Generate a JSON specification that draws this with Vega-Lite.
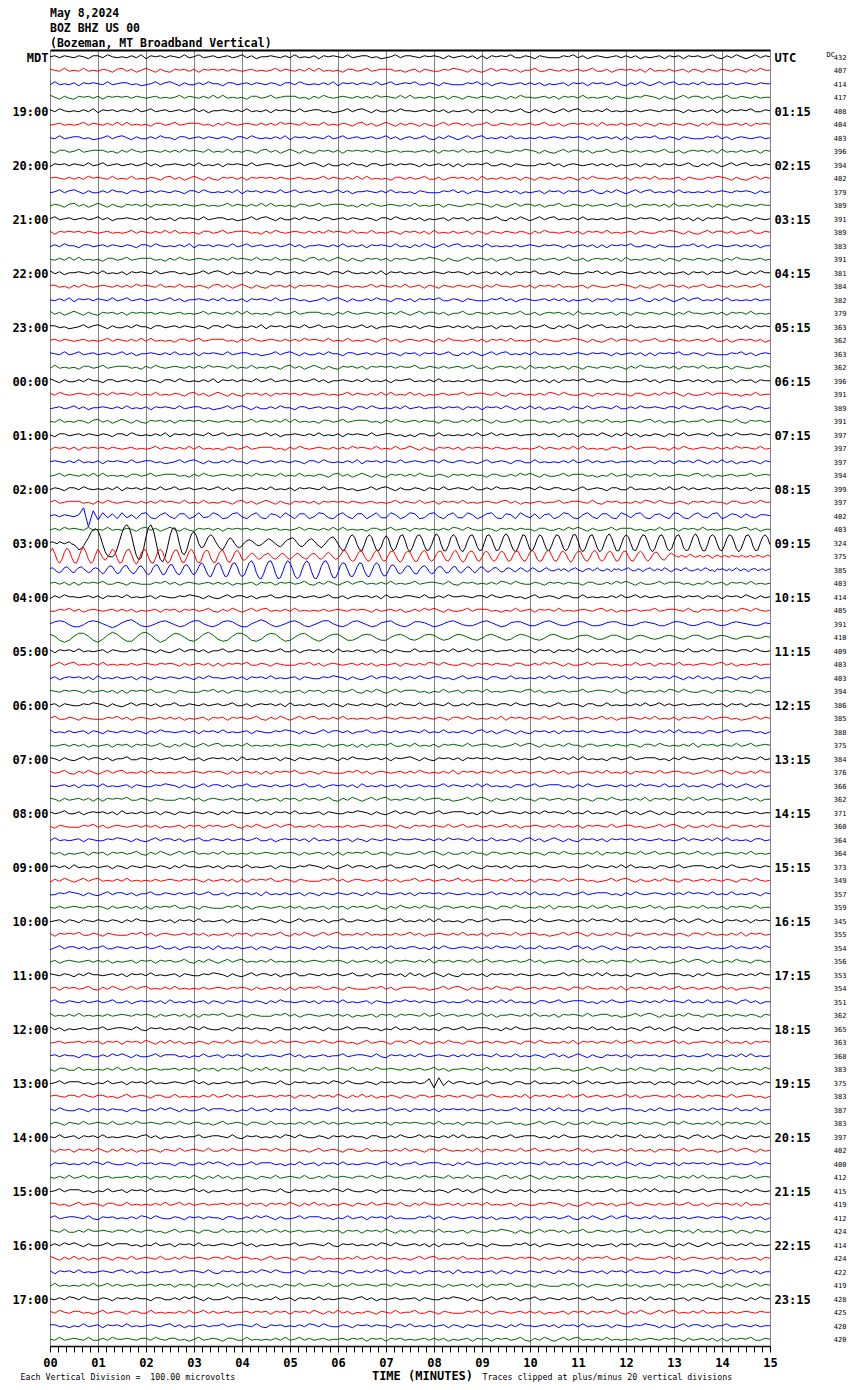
{
"$schema":"https://vega.github.io/schema/vega-lite/v6.json",
"width":720,"height":1296,
"autosize":{"type":"none"},
"padding":{"left":50,"top":50,"right":80,"bottom":44},
"background":"white",
"config":{"view":{"stroke":null}},
"title":{"text":["May 8,2024","BOZ BHZ US 00","(Bozeman, MT Broadband Vertical)"],"anchor":"start","frame":"group","font":"DejaVu Sans Mono","fontSize":11.5,"fontWeight":"bold","lineHeight":15,"offset":1,"color":"black"},
"datasets":{
"quiet":[
{"k":0,"v":[0,1,-1,1,0,-1,1,0,-2,1,1,-1,2,0,-1,0,-1,1,-1,2,-2,1,0,1,-1,1,0,-1,2,-1,0,2,-1,0,1,-1,0,1,-1,0,2,-1,1,-2,0,0,1,0,-1,1,-1,2,-1,0,-1,1,-2,1,0,1,0,-1,2,-1,0,1,1,-1,0,-2,-1,0,2,-1,1,1,0,-1,1,0,1,0,-2,1,-1,0,1,-1,1,-2,1,-2,1,0,1,0,2,-1,-1,1,0,-2,1,0,-1,-1,-1,1,0,2,-1,1,-2,0,1,0,-1,0,1,-1,1,-1,1,-2,0,-1,0,1,-2,1,0,1,-2,1,0,1,-1,0,2,-1,-2,1,-1,2,0,-2,0,2,-1,1,0]},
{"k":1,"v":[1,0,-1,2,-1,0,-1,2,-1,0,-1,1,0,-2,1,2,-1,1,-2,0,2,0,-2,1,-1,-2,1,0,1,-1,1,-2,1,0,1,0,1,-1,1,0,-1,0,1,-1,0,-1,0,2,-1,1,0,-1,1,-1,2,-1,2,-1,0,-1,0,-2,1,1,-1,0,2,-1,0,1,1,1,-1,0,-2,0,1,-2,1,0,-1,-1,1,0,2,1,0,-2,1,-1,-2,0,2,-1,1,1,-1,1,-2,0,0,2,-1,-1,1,0,-1,1,-1,0,1,-1,0,2,-1,-1,1,-2,0,1,0,1,-1,1,-2,2,-1,0,-1,1,-1,0,1,-2,1,0,-2,1,0,-1,1,0,-1,1,0,-2,1,-1,2,0,0]},
{"k":2,"v":[-1,2,-1,0,-1,1,-2,1,0,1,0,-1,2,-1,0,1,1,-1,0,-2,-1,0,2,-1,1,2,0,-2,1,-1,-1,1,-1,2,0,0,-2,1,1,-1,0,1,-1,1,0,-1,1,0,-2,1,1,-1,2,0,-1,0,-1,1,-1,2,-2,1,0,1,-1,1,0,-1,2,-1,0,2,-1,0,1,0,2,-1,-1,1,0,-2,1,0,-1,-1,-1,1,0,2,-1,1,-2,0,1,0,-1,0,1,-1,1,-1,1,-2,0,-1,0,1,-2,1,0,1,-2,1,0,1,-1,0,2,-1,-2,1,-1,2,0,-2,0,2,-1,1,2,-1,0,-1,1,-1,2,-1,0,-1,0,-1,1,-1,0,1,0,-1,1,0,0]},
{"k":3,"v":[2,0,-2,1,-1,-2,1,0,1,-1,1,-2,1,0,1,0,1,-1,1,0,-1,0,1,-1,0,-1,0,2,-1,1,0,-1,1,-1,2,-1,2,-1,0,-1,0,-2,1,1,-1,0,2,-1,0,1,1,1,-1,0,-2,1,-1,2,0,-1,0,1,0,-1,1,-1,1,-1,2,0,1,0,-1,2,-1,2,-1,0,-1,1,-1,0,1,-2,1,0,-2,1,0,-1,1,0,-1,1,0,-2,1,-1,2,0,0,-1,0,1,-1,1,-2,1,0,1,-1,2,-1,0,-1,0,1,-2,1,0,-1,-1,1,0,2,1,0,-2,1,-1,-2,0,2,-1,1,1,-1,1,-2,0,0,2,-1,-1,1,0,-1,1,-1,0,0]},
{"k":4,"v":[1,-1,2,0,-1,0,-1,1,-1,2,-2,1,0,1,-1,1,0,-1,2,-1,0,2,-1,0,1,-1,0,1,-1,0,2,-1,1,-2,0,0,1,0,-1,1,-1,2,-1,0,-1,1,-2,1,0,1,0,-1,2,-1,0,1,1,-1,0,-2,-1,0,2,-1,1,2,0,-2,1,-1,-1,1,-1,2,0,0,-1,0,1,-1,1,-1,1,-2,0,-1,0,1,-2,1,0,1,-2,1,0,1,-1,0,2,-1,-2,1,-1,2,0,-2,0,2,-1,1,2,-1,0,-1,1,-1,2,-1,0,-1,0,-1,1,-1,0,1,0,-1,1,0,1,0,-2,1,-1,0,1,-1,1,-2,1,-2,1,0,1,0,2,-1,-1,1,0]},
{"k":5,"v":[-1,0,1,-1,0,-1,0,2,-1,1,0,-1,1,-1,2,-1,2,-1,0,-1,0,-2,1,1,-1,0,2,-1,0,1,1,1,-1,0,-2,1,-1,2,0,-1,0,1,0,-1,1,-1,1,-1,2,0,1,0,-1,2,-1,0,-1,2,-1,0,-1,1,0,-2,1,2,-1,1,-2,0,2,0,-2,1,-1,1,0,-2,1,-1,-2,0,2,-1,1,1,-1,1,-2,0,0,2,-1,-1,1,0,-1,1,-1,0,1,-1,0,2,-1,-1,1,-2,0,1,0,1,-1,1,-2,2,-1,0,-1,1,-1,0,1,-2,1,0,-2,1,0,-1,1,0,-1,1,0,-2,1,-1,2,0,0,-1,0,1,-1,1,-2,1,0,1,0]},
{"k":6,"v":[0,-1,2,-1,0,1,1,-1,0,-2,-1,0,2,-1,1,2,0,-2,1,-1,-1,1,-1,2,0,0,-2,1,1,-1,0,1,-1,1,0,-1,1,0,-2,1,1,-1,2,0,-1,0,-1,1,-1,2,-2,1,0,1,-1,1,0,-1,2,-1,0,2,-1,0,1,-1,0,1,-1,0,2,-1,1,-2,0,1,-1,0,2,-1,-2,1,-1,2,0,-2,0,2,-1,1,2,-1,0,-1,1,-1,2,-1,0,-1,0,-1,1,-1,0,1,0,-1,1,0,1,0,-2,1,-1,0,1,-1,1,-2,1,-2,1,0,1,0,2,-1,-1,1,0,-2,1,0,-1,-1,-1,1,0,2,-1,1,-2,0,1,0,-1,0,1,-1,0]},
{"k":7,"v":[0,-2,1,1,-1,0,2,-1,0,1,1,1,-1,0,-2,1,-1,2,0,-1,0,1,0,-1,1,-1,1,-1,2,0,1,0,-1,2,-1,0,-1,2,-1,0,-1,1,0,-2,1,2,-1,1,-2,0,2,0,-2,1,-1,-2,1,0,1,-1,1,-2,1,0,1,0,1,-1,1,0,-1,0,1,-1,0,0,-1,0,1,-1,1,-2,1,0,1,-1,2,-1,0,-1,0,1,-2,1,0,-1,-1,1,0,2,1,0,-2,1,-1,-2,0,2,-1,1,1,-1,1,-2,0,0,2,-1,-1,1,0,-1,1,-1,0,1,-1,0,2,-1,-1,1,-2,0,1,0,1,-1,1,-2,2,-1,0,-1,1,-1,0,1,-2,1,0]},
{"k":8,"v":[-2,1,0,1,-1,1,0,-1,2,-1,0,2,-1,0,1,-1,0,1,-1,0,2,-1,1,-2,0,0,1,0,-1,1,-1,2,-1,0,-1,1,-2,1,0,1,0,-1,2,-1,0,1,1,-1,0,-2,-1,0,2,-1,1,2,0,-2,1,-1,-1,1,-1,2,0,0,-2,1,1,-1,0,1,-1,1,0,1,0,-2,1,-1,0,1,-1,1,-2,1,-2,1,0,1,0,2,-1,-1,1,0,-2,1,0,-1,-1,-1,1,0,2,-1,1,-2,0,1,0,-1,0,1,-1,1,-1,1,-2,0,-1,0,1,-2,1,0,1,-2,1,0,1,-1,0,2,-1,-2,1,-1,2,0,-2,0,2,-1,1,2,-1,0,-1,1,0]},
{"k":9,"v":[0,1,0,-1,1,-1,1,-1,2,0,1,0,-1,2,-1,0,-1,2,-1,0,-1,1,0,-2,1,2,-1,1,-2,0,2,0,-2,1,-1,-2,1,0,1,-1,1,-2,1,0,1,0,1,-1,1,0,-1,0,1,-1,0,-1,0,2,-1,1,0,-1,1,-1,2,-1,2,-1,0,-1,0,-2,1,1,-1,1,-1,0,2,-1,-1,1,-2,0,1,0,1,-1,1,-2,2,-1,0,-1,1,-1,0,1,-2,1,0,-2,1,0,-1,1,0,-1,1,0,-2,1,-1,2,0,0,-1,0,1,-1,1,-2,1,0,1,-1,2,-1,0,-1,0,1,-2,1,0,-1,-1,1,0,2,1,0,-2,1,-1,-2,0,2,-1,1,0]},
{"k":10,"v":[-1,0,2,-1,1,2,0,-2,1,-1,-1,1,-1,2,0,0,-2,1,1,-1,0,1,-1,1,0,-1,1,0,-2,1,1,-1,2,0,-1,0,-1,1,-1,2,-2,1,0,1,-1,1,0,-1,2,-1,0,2,-1,0,1,-1,0,1,-1,0,2,-1,1,-2,0,0,1,0,-1,1,-1,2,-1,0,-1,0,-2,1,0,-1,-1,-1,1,0,2,-1,1,-2,0,1,0,-1,0,1,-1,1,-1,1,-2,0,-1,0,1,-2,1,0,1,-2,1,0,1,-1,0,2,-1,-2,1,-1,2,0,-2,0,2,-1,1,2,-1,0,-1,1,-1,2,-1,0,-1,0,-1,1,-1,0,1,0,-1,1,0,1,0,-2,1,-1,0]},
{"k":11,"v":[-1,1,0,-2,1,2,-1,1,-2,0,2,0,-2,1,-1,-2,1,0,1,-1,1,-2,1,0,1,0,1,-1,1,0,-1,0,1,-1,0,-1,0,2,-1,1,0,-1,1,-1,2,-1,2,-1,0,-1,0,-2,1,1,-1,0,2,-1,0,1,1,1,-1,0,-2,1,-1,2,0,-1,0,1,0,-1,1,-1,2,-1,0,-1,0,1,-2,1,0,-1,-1,1,0,2,1,0,-2,1,-1,-2,0,2,-1,1,1,-1,1,-2,0,0,2,-1,-1,1,0,-1,1,-1,0,1,-1,0,2,-1,-1,1,-2,0,1,0,1,-1,1,-2,2,-1,0,-1,1,-1,0,1,-2,1,0,-2,1,0,-1,1,0,-1,1,0,0]},
{"k":12,"v":[0,2,-1,0,1,-1,0,1,-1,0,2,-1,1,-2,0,0,1,0,-1,1,-1,2,-1,0,-1,1,-2,1,0,1,0,-1,2,-1,0,1,1,-1,0,-2,-1,0,2,-1,1,2,0,-2,1,-1,-1,1,-1,2,0,0,-2,1,1,-1,0,1,-1,1,0,-1,1,0,-2,1,1,-1,2,0,-1,1,-1,1,-2,0,-1,0,1,-2,1,0,1,-2,1,0,1,-1,0,2,-1,-2,1,-1,2,0,-2,0,2,-1,1,2,-1,0,-1,1,-1,2,-1,0,-1,0,-1,1,-1,0,1,0,-1,1,0,1,0,-2,1,-1,0,1,-1,1,-2,1,-2,1,0,1,0,2,-1,-1,1,0,-2,1,0,-1,0]},
{"k":13,"v":[1,-2,1,0,1,0,1,-1,1,0,-1,0,1,-1,0,-1,0,2,-1,1,0,-1,1,-1,2,-1,2,-1,0,-1,0,-2,1,1,-1,0,2,-1,0,1,1,1,-1,0,-2,1,-1,2,0,-1,0,1,0,-1,1,-1,1,-1,2,0,1,0,-1,2,-1,0,-1,2,-1,0,-1,1,0,-2,1,0,1,-1,1,-2,2,-1,0,-1,1,-1,0,1,-2,1,0,-2,1,0,-1,1,0,-1,1,0,-2,1,-1,2,0,0,-1,0,1,-1,1,-2,1,0,1,-1,2,-1,0,-1,0,1,-2,1,0,-1,-1,1,0,2,1,0,-2,1,-1,-2,0,2,-1,1,1,-1,1,-2,0,0,2,-1,-1,1,0]},
{"k":14,"v":[-1,1,-1,2,0,0,-2,1,1,-1,0,1,-1,1,0,-1,1,0,-2,1,1,-1,2,0,-1,0,-1,1,-1,2,-2,1,0,1,-1,1,0,-1,2,-1,0,2,-1,0,1,-1,0,1,-1,0,2,-1,1,-2,0,0,1,0,-1,1,-1,2,-1,0,-1,1,-2,1,0,1,0,-1,2,-1,0,-2,1,-1,2,0,-2,0,2,-1,1,2,-1,0,-1,1,-1,2,-1,0,-1,0,-1,1,-1,0,1,0,-1,1,0,1,0,-2,1,-1,0,1,-1,1,-2,1,-2,1,0,1,0,2,-1,-1,1,0,-2,1,0,-1,-1,-1,1,0,2,-1,1,-2,0,1,0,-1,0,1,-1,1,-1,1,-2,0,0]},
{"k":15,"v":[0,-1,1,-1,2,-1,2,-1,0,-1,0,-2,1,1,-1,0,2,-1,0,1,1,1,-1,0,-2,1,-1,2,0,-1,0,1,0,-1,1,-1,1,-1,2,0,1,0,-1,2,-1,0,-1,2,-1,0,-1,1,0,-2,1,2,-1,1,-2,0,2,0,-2,1,-1,-2,1,0,1,-1,1,-2,1,0,1,-1,-1,1,0,2,1,0,-2,1,-1,-2,0,2,-1,1,1,-1,1,-2,0,0,2,-1,-1,1,0,-1,1,-1,0,1,-1,0,2,-1,-1,1,-2,0,1,0,1,-1,1,-2,2,-1,0,-1,1,-1,0,1,-2,1,0,-2,1,0,-1,1,0,-1,1,0,-2,1,-1,2,0,0,-1,0,1,-1,0]},
{"k":16,"v":[2,-1,1,-2,0,0,1,0,-1,1,-1,2,-1,0,-1,1,-2,1,0,1,0,-1,2,-1,0,1,1,-1,0,-2,-1,0,2,-1,1,2,0,-2,1,-1,-1,1,-1,2,0,0,-2,1,1,-1,0,1,-1,1,0,-1,1,0,-2,1,1,-1,2,0,-1,0,-1,1,-1,2,-2,1,0,1,-1,0,-1,1,-1,0,1,0,-1,1,0,1,0,-2,1,-1,0,1,-1,1,-2,1,-2,1,0,1,0,2,-1,-1,1,0,-2,1,0,-1,-1,-1,1,0,2,-1,1,-2,0,1,0,-1,0,1,-1,1,-1,1,-2,0,-1,0,1,-2,1,0,1,-2,1,0,1,-1,0,2,-1,-2,1,-1,2,0,0]},
{"k":17,"v":[1,1,-1,0,-2,1,-1,2,0,-1,0,1,0,-1,1,-1,1,-1,2,0,1,0,-1,2,-1,0,-1,2,-1,0,-1,1,0,-2,1,2,-1,1,-2,0,2,0,-2,1,-1,-2,1,0,1,-1,1,-2,1,0,1,0,1,-1,1,0,-1,0,1,-1,0,-1,0,2,-1,1,0,-1,1,-1,2,-1,0,1,-2,1,0,-2,1,0,-1,1,0,-1,1,0,-2,1,-1,2,0,0,-1,0,1,-1,1,-2,1,0,1,-1,2,-1,0,-1,0,1,-2,1,0,-1,-1,1,0,2,1,0,-2,1,-1,-2,0,2,-1,1,1,-1,1,-2,0,0,2,-1,-1,1,0,-1,1,-1,0,1,-1,0,2,-1,0]},
{"k":18,"v":[0,-1,1,-1,2,-2,1,0,1,-1,1,0,-1,2,-1,0,2,-1,0,1,-1,0,1,-1,0,2,-1,1,-2,0,0,1,0,-1,1,-1,2,-1,0,-1,1,-2,1,0,1,0,-1,2,-1,0,1,1,-1,0,-2,-1,0,2,-1,1,2,0,-2,1,-1,-1,1,-1,2,0,0,-2,1,1,-1,1,-2,1,0,1,0,2,-1,-1,1,0,-2,1,0,-1,-1,-1,1,0,2,-1,1,-2,0,1,0,-1,0,1,-1,1,-1,1,-2,0,-1,0,1,-2,1,0,1,-2,1,0,1,-1,0,2,-1,-2,1,-1,2,0,-2,0,2,-1,1,2,-1,0,-1,1,-1,2,-1,0,-1,0,-1,1,-1,0,0]},
{"k":19,"v":[2,-1,1,-2,0,2,0,-2,1,-1,-2,1,0,1,-1,1,-2,1,0,1,0,1,-1,1,0,-1,0,1,-1,0,-1,0,2,-1,1,0,-1,1,-1,2,-1,2,-1,0,-1,0,-2,1,1,-1,0,2,-1,0,1,1,1,-1,0,-2,1,-1,2,0,-1,0,1,0,-1,1,-1,1,-1,2,0,-2,0,2,-1,1,1,-1,1,-2,0,0,2,-1,-1,1,0,-1,1,-1,0,1,-1,0,2,-1,-1,1,-2,0,1,0,1,-1,1,-2,2,-1,0,-1,1,-1,0,1,-2,1,0,-2,1,0,-1,1,0,-1,1,0,-2,1,-1,2,0,0,-1,0,1,-1,1,-2,1,0,1,-1,2,-1,0,-1,0]},
{"k":20,"v":[1,1,-1,0,-2,-1,0,2,-1,1,2,0,-2,1,-1,-1,1,-1,2,0,0,-2,1,1,-1,0,1,-1,1,0,-1,1,0,-2,1,1,-1,2,0,-1,0,-1,1,-1,2,-2,1,0,1,-1,1,0,-1,2,-1,0,2,-1,0,1,-1,0,1,-1,0,2,-1,1,-2,0,0,1,0,-1,1,-1,1,-2,0,1,0,-1,0,1,-1,1,-1,1,-2,0,-1,0,1,-2,1,0,1,-2,1,0,1,-1,0,2,-1,-2,1,-1,2,0,-2,0,2,-1,1,2,-1,0,-1,1,-1,2,-1,0,-1,0,-1,1,-1,0,1,0,-1,1,0,1,0,-2,1,-1,0,1,-1,1,-2,1,-2,1,0,1,0]},
{"k":21,"v":[0,1,-1,1,0,-1,0,1,-1,0,-1,0,2,-1,1,0,-1,1,-1,2,-1,2,-1,0,-1,0,-2,1,1,-1,0,2,-1,0,1,1,1,-1,0,-2,1,-1,2,0,-1,0,1,0,-1,1,-1,1,-1,2,0,1,0,-1,2,-1,0,-1,2,-1,0,-1,1,0,-2,1,2,-1,1,-2,0,1,0,-1,1,0,-2,1,-1,2,0,0,-1,0,1,-1,1,-2,1,0,1,-1,2,-1,0,-1,0,1,-2,1,0,-1,-1,1,0,2,1,0,-2,1,-1,-2,0,2,-1,1,1,-1,1,-2,0,0,2,-1,-1,1,0,-1,1,-1,0,1,-1,0,2,-1,-1,1,-2,0,1,0,1,-1,1,-2,0]},
{"k":22,"v":[1,0,-1,2,-1,0,2,-1,0,1,-1,0,1,-1,0,2,-1,1,-2,0,0,1,0,-1,1,-1,2,-1,0,-1,1,-2,1,0,1,0,-1,2,-1,0,1,1,-1,0,-2,-1,0,2,-1,1,2,0,-2,1,-1,-1,1,-1,2,0,0,-2,1,1,-1,0,1,-1,1,0,-1,1,0,-2,1,0,1,-2,1,0,1,-1,0,2,-1,-2,1,-1,2,0,-2,0,2,-1,1,2,-1,0,-1,1,-1,2,-1,0,-1,0,-1,1,-1,0,1,0,-1,1,0,1,0,-2,1,-1,0,1,-1,1,-2,1,-2,1,0,1,0,2,-1,-1,1,0,-2,1,0,-1,-1,-1,1,0,2,-1,1,-2,0,1,0]},
{"k":23,"v":[-1,2,-1,0,-1,0,-2,1,1,-1,0,2,-1,0,1,1,1,-1,0,-2,1,-1,2,0,-1,0,1,0,-1,1,-1,1,-1,2,0,1,0,-1,2,-1,0,-1,2,-1,0,-1,1,0,-2,1,2,-1,1,-2,0,2,0,-2,1,-1,-2,1,0,1,-1,1,-2,1,0,1,0,1,-1,1,0,0,2,-1,-1,1,0,-1,1,-1,0,1,-1,0,2,-1,-1,1,-2,0,1,0,1,-1,1,-2,2,-1,0,-1,1,-1,0,1,-2,1,0,-2,1,0,-1,1,0,-1,1,0,-2,1,-1,2,0,0,-1,0,1,-1,1,-2,1,0,1,-1,2,-1,0,-1,0,1,-2,1,0,-1,-1,1,0,2,0]},
{"k":24,"v":[2,0,-2,1,-1,-1,1,-1,2,0,0,-2,1,1,-1,0,1,-1,1,0,-1,1,0,-2,1,1,-1,2,0,-1,0,-1,1,-1,2,-2,1,0,1,-1,1,0,-1,2,-1,0,2,-1,0,1,-1,0,1,-1,0,2,-1,1,-2,0,0,1,0,-1,1,-1,2,-1,0,-1,1,-2,1,0,1,2,-1,0,-1,1,-1,2,-1,0,-1,0,-1,1,-1,0,1,0,-1,1,0,1,0,-2,1,-1,0,1,-1,1,-2,1,-2,1,0,1,0,2,-1,-1,1,0,-2,1,0,-1,-1,-1,1,0,2,-1,1,-2,0,1,0,-1,0,1,-1,1,-1,1,-2,0,-1,0,1,-2,1,0,1,-2,1,0,0]},
{"k":25,"v":[1,-1,2,0,-1,0,1,0,-1,1,-1,1,-1,2,0,1,0,-1,2,-1,0,-1,2,-1,0,-1,1,0,-2,1,2,-1,1,-2,0,2,0,-2,1,-1,-2,1,0,1,-1,1,-2,1,0,1,0,1,-1,1,0,-1,0,1,-1,0,-1,0,2,-1,1,0,-1,1,-1,2,-1,2,-1,0,-1,2,-1,1,-2,0,-1,0,1,-1,0,0,2,-1,0,1,1,0,-1,2,-1,-2,1,0,1,-1,0,-1,1,-1,2,1,-1,2,0,-1,-1,1,0,-2,1,0,1,-1,1,0,0,-2,1,1,-1,-1,1,-1,2,0,2,0,-2,1,-1,-1,0,2,-1,1,1,1,-1,0,-2,0,-1,2,-1,0,0]},
{"k":26,"v":[-1,0,1,-1,0,2,-1,1,-2,0,0,1,0,-1,1,-1,2,-1,0,-1,1,-2,1,0,1,0,-1,2,-1,0,1,1,-1,0,-2,-1,0,2,-1,1,2,0,-2,1,-1,-1,1,-1,2,0,0,-2,1,1,-1,0,1,-1,1,0,-1,1,0,-2,1,1,-1,2,0,-1,0,-1,1,-1,2,-1,0,1,-1,0,0,1,-1,1,0,1,-2,1,0,1,-2,1,0,1,-1,2,0,-2,1,-1,2,-1,1,-2,0,-1,1,0,-2,1,0,-1,2,-1,0,1,0,-1,2,-1,-1,1,-1,2,0,0,1,0,-1,1,1,-1,2,0,-1,1,1,-1,0,-2,0,2,-1,0,1,0,-2,1,1,-1,0]},
{"k":27,"v":[0,-1,2,-1,0,-1,1,0,-2,1,2,-1,1,-2,0,2,0,-2,1,-1,-2,1,0,1,-1,1,-2,1,0,1,0,1,-1,1,0,-1,0,1,-1,0,-1,0,2,-1,1,0,-1,1,-1,2,-1,2,-1,0,-1,0,-2,1,1,-1,0,2,-1,0,1,1,1,-1,0,-2,1,-1,2,0,-1,0,1,-1,1,0,0,-2,1,1,-1,-1,1,-1,2,0,2,0,-2,1,-1,-1,0,2,-1,1,1,1,-1,0,-2,0,-1,2,-1,0,1,-2,1,0,1,-1,2,-1,0,-1,0,1,0,-1,1,2,-1,1,-2,0,-1,0,1,-1,0,0,2,-1,0,1,1,0,-1,2,-1,-2,1,0,1,-1,0]},
{"k":28,"v":[0,-2,1,1,-1,0,1,-1,1,0,-1,1,0,-2,1,1,-1,2,0,-1,0,-1,1,-1,2,-2,1,0,1,-1,1,0,-1,2,-1,0,2,-1,0,1,-1,0,1,-1,0,2,-1,1,-2,0,0,1,0,-1,1,-1,2,-1,0,-1,1,-2,1,0,1,0,-1,2,-1,0,1,1,-1,0,-2,0,-2,1,1,-1,-1,2,-1,0,-1,0,-1,1,-1,2,-1,0,2,-1,1,-1,0,1,-1,0,0,1,-1,1,0,1,-2,1,0,1,-2,1,0,1,-1,2,0,-2,1,-1,2,-1,1,-2,0,-1,1,0,-2,1,0,-1,2,-1,0,1,0,-1,2,-1,-1,1,-1,2,0,0,1,0,-1,1,0]},
{"k":29,"v":[-2,1,0,1,-1,1,-2,1,0,1,0,1,-1,1,0,-1,0,1,-1,0,-1,0,2,-1,1,0,-1,1,-1,2,-1,2,-1,0,-1,0,-2,1,1,-1,0,2,-1,0,1,1,1,-1,0,-2,1,-1,2,0,-1,0,1,0,-1,1,-1,1,-1,2,0,1,0,-1,2,-1,0,-1,2,-1,0,2,0,-2,1,-1,-2,1,0,1,-1,1,-2,1,0,1,0,1,-1,1,0,-1,0,1,-1,0,-1,0,2,-1,1,0,-1,1,-1,2,-1,2,-1,0,-1,0,-2,1,1,-1,0,2,-1,0,1,1,1,-1,0,-2,1,-1,2,0,-1,0,1,0,-1,1,-1,1,-1,2,0,1,0,-1,2,-1,0]},
{"k":30,"v":[0,1,0,-1,1,-1,2,-1,0,-1,1,-2,1,0,1,0,-1,2,-1,0,1,1,-1,0,-2,-1,0,2,-1,1,2,0,-2,1,-1,-1,1,-1,2,0,0,-2,1,1,-1,0,1,-1,1,0,-1,1,0,-2,1,1,-1,2,0,-1,0,-1,1,-1,2,-2,1,0,1,-1,1,0,-1,2,-1,0,1,0,-1,1,1,-1,2,0,-1,1,1,-1,0,-2,0,2,-1,0,1,0,-2,1,1,-1,-1,2,-1,0,-1,0,-1,1,-1,2,-1,0,2,-1,1,-1,0,1,-1,0,0,1,-1,1,0,1,-2,1,0,1,-2,1,0,1,-1,2,0,-2,1,-1,2,-1,1,-2,0,-1,1,0,-2,1,0]},
{"k":31,"v":[-1,0,2,-1,1,0,-1,1,-1,2,-1,2,-1,0,-1,0,-2,1,1,-1,0,2,-1,0,1,1,1,-1,0,-2,1,-1,2,0,-1,0,1,0,-1,1,-1,1,-1,2,0,1,0,-1,2,-1,0,-1,2,-1,0,-1,1,0,-2,1,2,-1,1,-2,0,2,0,-2,1,-1,-2,1,0,1,-1,1,-1,2,0,-1,-1,1,0,-2,1,0,1,-1,1,0,0,-2,1,1,-1,-1,1,-1,2,0,2,0,-2,1,-1,-1,0,2,-1,1,1,1,-1,0,-2,0,-1,2,-1,0,1,-2,1,0,1,-1,2,-1,0,-1,0,1,0,-1,1,2,-1,1,-2,0,-1,0,1,-1,0,0,2,-1,0,1,0]},
{"k":32,"v":[-1,1,0,-2,1,1,-1,2,0,-1,0,-1,1,-1,2,-2,1,0,1,-1,1,0,-1,2,-1,0,2,-1,0,1,-1,0,1,-1,0,2,-1,1,-2,0,0,1,0,-1,1,-1,2,-1,0,-1,1,-2,1,0,1,0,-1,2,-1,0,1,1,-1,0,-2,-1,0,2,-1,1,2,0,-2,1,-1,-1,1,0,-2,1,0,-1,2,-1,0,1,0,-1,2,-1,-1,1,-1,2,0,0,1,0,-1,1,1,-1,2,0,-1,1,1,-1,0,-2,0,2,-1,0,1,0,-2,1,1,-1,-1,2,-1,0,-1,0,-1,1,-1,2,-1,0,2,-1,1,-1,0,1,-1,0,0,1,-1,1,0,1,-2,1,0,1,0]},
{"k":33,"v":[0,2,-1,0,1,1,1,-1,0,-2,1,-1,2,0,-1,0,1,0,-1,1,-1,1,-1,2,0,1,0,-1,2,-1,0,-1,2,-1,0,-1,1,0,-2,1,2,-1,1,-2,0,2,0,-2,1,-1,-2,1,0,1,-1,1,-2,1,0,1,0,1,-1,1,0,-1,0,1,-1,0,-1,0,2,-1,1,0,-1,2,-1,0,1,-2,1,0,1,-1,2,-1,0,-1,0,1,0,-1,1,2,-1,1,-2,0,-1,0,1,-1,0,0,2,-1,0,1,1,0,-1,2,-1,-2,1,0,1,-1,0,-1,1,-1,2,1,-1,2,0,-1,-1,1,0,-2,1,0,1,-1,1,0,0,-2,1,1,-1,-1,1,-1,2,0,0]},
{"k":34,"v":[0,1,-1,1,0,-1,1,8,-11,5,-4,3,-2,2,-3,3,-2,1,-3,2,3,-2,-3,1,3,-1,-3,2,2,-3,-1,3,-2,-1,3,1,-3,-2,2,3,-1,-3,1,3,-2,-3,2,1,-2,3,0,-3,2,2,-3,-1,3,2,-2,-3,1,3,-1,-3,2,2,-3,0,3,-2,-2,3,1,-3,-1,3,2,-3,-2,2,3,-1,-3,1,3,-2,-2,3,1,-3,-1,2,3,-2,-3,2,1,-3,3,0,-2,2,-3,1,2,-3,-1,3,2,-2,-3,1,3,-1,-3,2,2,-2,-3,3,1,-2,2,3,-2,-3,1,2,-1,-3,3,2,-2,-3,1,3,-1,-2,2,3,-3,-1,2,1,-2,2,-1,-2,1,1,0]},
{"k":35,"v":[-1,1,-1,2,0,1,0,-1,2,-1,0,-1,2,-1,0,-1,1,0,-2,1,2,-1,1,-2,0,2,0,-2,1,-1,-2,1,0,1,-1,1,-2,1,0,1,0,1,-1,1,0,-1,0,1,-1,0,-1,0,2,-1,1,0,-1,1,-1,2,-1,2,-1,0,-1,0,-2,1,1,-1,0,2,-1,0,1,-2,1,0,1,-1,0,-1,1,-1,2,1,-1,2,0,-1,-1,1,0,-2,1,0,1,-1,1,0,0,-2,1,1,-1,-1,1,-1,2,0,2,0,-2,1,-1,-1,0,2,-1,1,1,1,-1,0,-2,0,-1,2,-1,0,1,-2,1,0,1,-1,2,-1,0,-1,0,1,0,-1,1,2,-1,1,-2,0,0]},
{"k":39,"v":[0,1,-1,1,-2,1,-2,1,0,1,0,2,-1,-1,1,0,-2,1,0,-1,-1,-1,1,0,2,-1,1,-2,0,1,0,-1,0,1,-1,1,-1,1,-2,0,-1,0,1,-2,1,0,1,-2,1,0,1,-1,0,2,-1,-2,1,-1,2,0,-2,0,2,-1,1,2,-1,0,-1,1,-1,2,-1,0,-1,0,2,-1,0,1,1,0,-1,2,-1,-2,1,0,1,-1,0,-1,1,-1,2,1,-1,2,0,-1,-1,1,0,-2,1,0,1,-1,1,0,0,-2,1,1,-1,-1,1,-1,2,0,2,0,-2,1,-1,-1,0,2,-1,1,1,1,-1,0,-2,0,-1,2,-1,0,1,-2,1,0,1,-1,2,-1,0,-1,0]},
{"k":40,"v":[-2,1,-1,2,0,0,-1,0,1,-1,1,-2,1,0,1,-1,2,-1,0,-1,0,1,-2,1,0,-1,-1,1,0,2,1,0,-2,1,-1,-2,0,2,-1,1,1,-1,1,-2,0,0,2,-1,-1,1,0,-1,1,-1,0,1,-1,0,2,-1,-1,1,-2,0,1,0,1,-1,1,-2,2,-1,0,-1,1,1,0,-1,2,-1,-1,1,-1,2,0,0,1,0,-1,1,1,-1,2,0,-1,1,1,-1,0,-2,0,2,-1,0,1,0,-2,1,1,-1,-1,2,-1,0,-1,0,-1,1,-1,2,-1,0,2,-1,1,-1,0,1,-1,0,0,1,-1,1,0,1,-2,1,0,1,-2,1,0,1,-1,2,0,-2,1,-1,0]},
{"k":41,"v":[-1,-1,1,0,2,-1,1,-2,0,1,0,-1,0,1,-1,1,-1,1,-2,0,-1,0,1,-2,1,0,1,-2,1,0,1,-1,0,2,-1,-2,1,-1,2,0,-2,0,2,-1,1,2,-1,0,-1,1,-1,2,-1,0,-1,0,-1,1,-1,0,1,0,-1,1,0,1,0,-2,1,-1,0,1,-1,1,-2,-1,1,-1,2,0,2,0,-2,1,-1,-1,0,2,-1,1,1,1,-1,0,-2,0,-1,2,-1,0,1,-2,1,0,1,-1,2,-1,0,-1,0,1,0,-1,1,2,-1,1,-2,0,-1,0,1,-1,0,0,2,-1,0,1,1,0,-1,2,-1,-2,1,0,1,-1,0,-1,1,-1,2,1,-1,2,0,-1,0]},
{"k":42,"v":[0,2,3,2,-1,-3,-3,-1,2,3,2,0,-2,-4,-2,1,3,4,1,-2,-3,-2,0,2,3,1,-1,-3,-2,1,3,3,0,-2,-3,-1,2,3,2,-1,-3,-3,0,2,4,2,-1,-3,-2,0,2,3,1,-2,-3,-1,1,3,3,0,-2,-3,-1,2,3,1,-1,-3,-2,1,2,3,0,-2,-3,-1,2,2,1,-1,-3,-2,0,2,3,1,-1,-2,-2,0,2,3,1,-1,-3,-2,1,2,2,0,-2,-2,0,2,3,1,-1,-2,-1,1,2,2,0,-2,-2,-1,1,2,2,0,-1,-2,-1,1,2,1,0,-2,-2,0,2,2,1,-1,-2,-1,1,2,1,-1,-2,-1,1,2,1,0,-1,-2,-1,1,0]},
{"k":43,"v":[3,1,-3,-5,-3,1,4,4,1,-3,-5,-2,2,5,3,-1,-4,-4,0,4,5,2,-2,-5,-3,1,4,3,0,-3,-4,-1,3,5,2,-2,-4,-3,1,4,4,1,-3,-4,-2,2,4,3,-1,-4,-3,0,3,4,1,-2,-4,-2,1,3,3,0,-3,-3,-1,2,3,2,-1,-3,-3,0,2,3,1,-2,-3,-1,2,3,2,-1,-3,-2,1,3,2,0,-2,-3,-1,2,3,1,-1,-3,-2,1,3,2,0,-2,-3,-1,2,3,1,-1,-2,-1,1,2,2,0,-2,-2,0,2,2,0,-2,-2,1,2,1,-1,-2,-1,1,2,1,-1,-2,0,2,2,0,-2,-1,1,2,1,-1,-2,0,1,1,-1,-1,1,0]},
{"k":44,"v":[1,-2,1,0,1,-1,2,-1,0,-1,0,1,-2,1,0,-1,-1,1,0,2,1,0,-2,1,-1,-2,0,2,-1,1,1,-1,1,-2,0,0,2,-1,-1,1,0,-1,1,-1,0,1,-1,0,2,-1,-1,1,-2,0,1,0,1,-1,1,-2,2,-1,0,-1,1,-1,0,1,-2,1,0,-2,1,0,-1,-1,2,-1,0,-1,0,-1,1,-1,2,-1,0,2,-1,1,-1,0,1,-1,0,0,1,-1,1,0,1,-2,1,0,1,-2,1,0,1,-1,2,0,-2,1,-1,2,-1,1,-2,0,-1,1,0,-2,1,0,-1,2,-1,0,1,0,-1,2,-1,-1,1,-1,2,0,0,1,0,-1,1,1,-1,2,0,-1,0]},
{"k":45,"v":[-2,0,2,-1,1,2,-1,0,-1,1,-1,2,-1,0,-1,0,-1,1,-1,0,1,0,-1,1,0,1,0,-2,1,-1,0,1,-1,1,-2,1,-2,1,0,1,0,2,-1,-1,1,0,-2,1,0,-1,-1,-1,1,0,2,-1,1,-2,0,1,0,-1,0,1,-1,1,-1,1,-2,0,-1,0,1,-2,1,0,-1,1,-1,2,1,-1,2,0,-1,-1,1,0,-2,1,0,1,-1,1,0,0,-2,1,1,-1,-1,1,-1,2,0,2,0,-2,1,-1,-1,0,2,-1,1,1,1,-1,0,-2,0,-1,2,-1,0,1,-2,1,0,1,-1,2,-1,0,-1,0,1,0,-1,1,2,-1,1,-2,0,-1,0,1,-1,0,0]},
{"k":46,"v":[-1,1,-2,0,1,0,1,-1,1,-2,2,-1,0,-1,1,-1,0,1,-2,1,0,-2,1,0,-1,1,0,-1,1,0,-2,1,-1,2,0,0,-1,0,1,-1,1,-2,1,0,1,-1,2,-1,0,-1,0,1,-2,1,0,-1,-1,1,0,2,1,0,-2,1,-1,-2,0,2,-1,1,1,-1,1,-2,0,1,-1,2,0,-1,1,1,-1,0,-2,0,2,-1,0,1,0,-2,1,1,-1,-1,2,-1,0,-1,0,-1,1,-1,2,-1,0,2,-1,1,-1,0,1,-1,0,0,1,-1,1,0,1,-2,1,0,1,-2,1,0,1,-1,2,0,-2,1,-1,2,-1,1,-2,0,-1,1,0,-2,1,0,-1,2,-1,0,0]},
{"k":47,"v":[1,0,-1,1,0,1,0,-2,1,-1,0,1,-1,1,-2,1,-2,1,0,1,0,2,-1,-1,1,0,-2,1,0,-1,-1,-1,1,0,2,-1,1,-2,0,1,0,-1,0,1,-1,1,-1,1,-2,0,-1,0,1,-2,1,0,1,-2,1,0,1,-1,0,2,-1,-2,1,-1,2,0,-2,0,2,-1,1,1,1,-1,0,-2,0,-1,2,-1,0,1,-2,1,0,1,-1,2,-1,0,-1,0,1,0,-1,1,2,-1,1,-2,0,-1,0,1,-1,0,0,2,-1,0,1,1,0,-1,2,-1,-2,1,0,1,-1,0,-1,1,-1,2,1,-1,2,0,-1,-1,1,0,-2,1,0,1,-1,1,0,0,-2,1,1,-1,0]},
{"k":48,"v":[0,1,-2,1,0,-1,-1,1,0,2,1,0,-2,1,-1,-2,0,2,-1,1,1,-1,1,-2,0,0,2,-1,-1,1,0,-1,1,-1,0,1,-1,0,2,-1,-1,1,-2,0,1,0,1,-1,1,-2,2,-1,0,-1,1,-1,0,1,-2,1,0,-2,1,0,-1,1,0,-1,1,0,-2,1,-1,2,0,0,-1,2,-1,0,1,0,-1,2,-1,-1,1,-1,2,0,0,1,0,-1,1,1,-1,2,0,-1,1,1,-1,0,-2,0,2,-1,0,1,0,-2,1,1,-1,-1,2,-1,0,-1,0,-1,1,-1,2,-1,0,2,-1,1,-1,0,1,-1,0,0,1,-1,1,0,1,-2,1,0,1,-2,1,0,1,-1,0]},
{"k":49,"v":[0,2,-1,-1,1,0,-2,1,0,-1,-1,-1,1,0,2,-1,1,-2,0,1,0,-1,0,1,-1,1,-1,1,-2,0,-1,0,1,-2,1,0,1,-2,1,0,1,-1,0,2,-1,-2,1,-1,2,0,-2,0,2,-1,1,2,-1,0,-1,1,-1,2,-1,0,-1,0,-1,1,-1,0,1,0,-1,1,0,0,1,-1,1,0,-1,1,0,-2,1,1,-1,2,0,-1,0,-1,1,-1,2,-2,1,0,1,-1,1,0,-1,2,-1,0,2,-1,0,1,-1,0,1,-1,0,2,-1,1,-2,0,0,1,0,-1,1,-1,2,-1,0,-1,1,-2,1,0,1,0,-1,2,-1,0,1,1,-1,0,-2,-1,0,2,-1,1,0]},
{"k":50,"v":[2,-1,0,-1,1,-1,0,1,-2,1,0,-2,1,0,-1,1,0,-1,1,0,-2,1,-1,2,0,0,-1,0,1,-1,1,-2,1,0,1,-1,2,-1,0,-1,0,1,-2,1,0,-1,-1,1,0,2,1,0,-2,1,-1,-2,0,2,-1,1,1,-1,1,-2,0,0,2,-1,-1,1,0,-1,1,-1,0,1,0,-1,2,-1,0,-1,2,-1,0,-1,1,0,-2,1,2,-1,1,-2,0,2,0,-2,1,-1,-2,1,0,1,-1,1,-2,1,0,1,0,1,-1,1,0,-1,0,1,-1,0,-1,0,2,-1,1,0,-1,1,-1,2,-1,2,-1,0,-1,0,-2,1,1,-1,0,2,-1,0,1,1,1,-1,0,-2,0]},
{"k":51,"v":[0,-1,0,1,-1,1,-1,1,-2,0,-1,0,1,-2,1,0,1,-2,1,0,1,-1,0,2,-1,-2,1,-1,2,0,-2,0,2,-1,1,2,-1,0,-1,1,-1,2,-1,0,-1,0,-1,1,-1,0,1,0,-1,1,0,1,0,-2,1,-1,0,1,-1,1,-2,1,-2,1,0,1,0,2,-1,-1,1,-1,2,-1,0,-1,1,-2,1,0,1,0,-1,2,-1,0,1,1,-1,0,-2,-1,0,2,-1,1,2,0,-2,1,-1,-1,1,-1,2,0,0,-2,1,1,-1,0,1,-1,1,0,-1,1,0,-2,1,1,-1,2,0,-1,0,-1,1,-1,2,-2,1,0,1,-1,1,0,-1,2,-1,0,2,-1,0,1,0]},
{"k":52,"v":[1,0,-2,1,-1,-2,0,2,-1,1,1,-1,1,-2,0,0,2,-1,-1,1,0,-1,1,-1,0,1,-1,0,2,-1,-1,1,-2,0,1,0,1,-1,1,-2,2,-1,0,-1,1,-1,0,1,-2,1,0,-2,1,0,-1,1,0,-1,1,0,-2,1,-1,2,0,0,-1,0,1,-1,1,-2,1,0,1,2,0,-2,1,-1,-2,1,0,1,-1,1,-2,1,0,1,0,1,-1,1,0,-1,0,1,-1,0,-1,0,2,-1,1,0,-1,1,-1,2,-1,2,-1,0,-1,0,-2,1,1,-1,0,2,-1,0,1,1,1,-1,0,-2,1,-1,2,0,-1,0,1,0,-1,1,-1,1,-1,2,0,1,0,-1,2,-1,0]},
{"k":53,"v":[1,-1,0,2,-1,-2,1,-1,2,0,-2,0,2,-1,1,2,-1,0,-1,1,-1,2,-1,0,-1,0,-1,1,-1,0,1,0,-1,1,0,1,0,-2,1,-1,0,1,-1,1,-2,1,-2,1,0,1,0,2,-1,-1,1,0,-2,1,0,-1,-1,-1,1,0,2,-1,1,-2,0,1,0,-1,0,1,-1,1,-1,2,0,-1,0,-1,1,-1,2,-2,1,0,1,-1,1,0,-1,2,-1,0,2,-1,0,1,-1,0,1,-1,0,2,-1,1,-2,0,0,1,0,-1,1,-1,2,-1,0,-1,1,-2,1,0,1,0,-1,2,-1,0,1,1,-1,0,-2,-1,0,2,-1,1,2,0,-2,1,-1,-1,1,-1,2,0,0]},
{"k":54,"v":[0,-1,0,1,-1,1,-2,1,0,1,-1,2,-1,0,-1,0,1,-2,1,0,-1,-1,1,0,2,1,0,-2,1,-1,-2,0,2,-1,1,1,-1,1,-2,0,0,2,-1,-1,1,0,-1,1,-1,0,1,-1,0,2,-1,-1,1,-2,0,1,0,1,-1,1,-2,2,-1,0,-1,1,-1,0,1,-2,1,-1,0,1,-1,0,-1,0,2,-1,1,0,-1,1,-1,2,-1,2,-1,0,-1,0,-2,1,1,-1,0,2,-1,0,1,1,1,-1,0,-2,1,-1,2,0,-1,0,1,0,-1,1,-1,1,-1,2,0,1,0,-1,2,-1,0,-1,2,-1,0,-1,1,0,-2,1,2,-1,1,-2,0,2,0,-2,1,-1,0]},
{"k":55,"v":[1,0,-2,1,-1,0,1,-1,1,-2,1,-2,1,0,1,0,2,-1,-1,1,0,-2,1,0,-1,-1,-1,1,0,2,-1,1,-2,0,1,0,-1,0,1,-1,1,-1,1,-2,0,-1,0,1,-2,1,0,1,-2,1,0,1,-1,0,2,-1,-2,1,-1,2,0,-2,0,2,-1,1,2,-1,0,-1,1,0,-1,2,-1,0,1,1,-1,0,-2,-1,0,2,-1,1,2,0,-2,1,-1,-1,1,-1,2,0,0,-2,1,1,-1,0,1,-1,1,0,-1,1,0,-2,1,1,-1,2,0,-1,0,-1,1,-1,2,-2,1,0,1,-1,1,0,-1,2,-1,0,2,-1,0,1,-1,0,1,-1,0,2,-1,1,-2,0,0]},
{"k":56,"v":[1,-1,0,2,-1,-1,1,-2,0,1,0,1,-1,1,-2,2,-1,0,-1,1,-1,0,1,-2,1,0,-2,1,0,-1,1,0,-1,1,0,-2,1,-1,2,0,0,-1,0,1,-1,1,-2,1,0,1,-1,2,-1,0,-1,0,1,-2,1,0,-1,-1,1,0,2,1,0,-2,1,-1,-2,0,2,-1,1,0,-2,1,1,-1,0,2,-1,0,1,1,1,-1,0,-2,1,-1,2,0,-1,0,1,0,-1,1,-1,1,-1,2,0,1,0,-1,2,-1,0,-1,2,-1,0,-1,1,0,-2,1,2,-1,1,-2,0,2,0,-2,1,-1,-2,1,0,1,-1,1,-2,1,0,1,0,1,-1,1,0,-1,0,1,-1,0,0]},
{"k":57,"v":[0,-2,1,0,-1,-1,-1,1,0,2,-1,1,-2,0,1,0,-1,0,1,-1,1,-1,1,-2,0,-1,0,1,-2,1,0,1,-2,1,0,1,-1,0,2,-1,-2,1,-1,2,0,-2,0,2,-1,1,2,-1,0,-1,1,-1,2,-1,0,-1,0,-1,1,-1,0,1,0,-1,1,0,1,0,-2,1,-1,-2,1,0,1,-1,1,0,-1,2,-1,0,2,-1,0,1,-1,0,1,-1,0,2,-1,1,-2,0,0,1,0,-1,1,-1,2,-1,0,-1,1,-2,1,0,1,0,-1,2,-1,0,1,1,-1,0,-2,-1,0,2,-1,1,2,0,-2,1,-1,-1,1,-1,2,0,0,-2,1,1,-1,0,1,-1,1,0,0]},
{"k":58,"v":[-1,2,-1,0,-1,0,1,-2,1,0,-1,-1,1,0,2,1,0,-2,1,-1,-2,0,2,-1,1,1,-1,1,-2,0,0,2,-1,-1,1,0,-1,1,-1,0,1,-1,0,2,-1,-1,1,-2,0,1,0,1,-1,1,-2,2,-1,0,-1,1,-1,0,1,-2,1,0,-2,1,0,-1,1,0,-1,1,0,0,1,0,-1,1,-1,1,-1,2,0,1,0,-1,2,-1,0,-1,2,-1,0,-1,1,0,-2,1,2,-1,1,-2,0,2,0,-2,1,-1,-2,1,0,1,-1,1,-2,1,0,1,0,1,-1,1,0,-1,0,1,-1,0,-1,0,2,-1,1,0,-1,1,-1,2,-1,2,-1,0,-1,0,-2,1,1,-1,0]},
{"k":59,"v":[1,-1,1,-2,0,-1,0,1,-2,1,0,1,-2,1,0,1,-1,0,2,-1,-2,1,-1,2,0,-2,0,2,-1,1,2,-1,0,-1,1,-1,2,-1,0,-1,0,-1,1,-1,0,1,0,-1,1,0,1,0,-2,1,-1,0,1,-1,1,-2,1,-2,1,0,1,0,2,-1,-1,1,0,-2,1,0,-1,-1,0,2,-1,1,2,0,-2,1,-1,-1,1,-1,2,0,0,-2,1,1,-1,0,1,-1,1,0,-1,1,0,-2,1,1,-1,2,0,-1,0,-1,1,-1,2,-2,1,0,1,-1,1,0,-1,2,-1,0,2,-1,0,1,-1,0,1,-1,0,2,-1,1,-2,0,0,1,0,-1,1,-1,2,-1,0,-1,0]},
{"k":60,"v":[0,1,-1,1,-2,2,-1,0,-1,1,-1,0,1,-2,1,0,-2,1,0,-1,1,0,-1,1,0,-2,1,-1,2,0,0,-1,0,1,-1,1,-2,1,0,1,-1,2,-1,0,-1,0,1,-2,1,0,-1,-1,1,0,2,1,0,-2,1,-1,-2,0,2,-1,1,1,-1,1,-2,0,0,2,-1,-1,1,-1,1,0,-2,1,2,-1,1,-2,0,2,0,-2,1,-1,-2,1,0,1,-1,1,-2,1,0,1,0,1,-1,1,0,-1,0,1,-1,0,-1,0,2,-1,1,0,-1,1,-1,2,-1,2,-1,0,-1,0,-2,1,1,-1,0,2,-1,0,1,1,1,-1,0,-2,1,-1,2,0,-1,0,1,0,-1,1,0]},
{"k":61,"v":[-2,1,-1,2,0,-2,0,2,-1,1,2,-1,0,-1,1,-1,2,-1,0,-1,0,-1,1,-1,0,1,0,-1,1,0,1,0,-2,1,-1,0,1,-1,1,-2,1,-2,1,0,1,0,2,-1,-1,1,0,-2,1,0,-1,-1,-1,1,0,2,-1,1,-2,0,1,0,-1,0,1,-1,1,-1,1,-2,0,0,2,-1,0,1,-1,0,1,-1,0,2,-1,1,-2,0,0,1,0,-1,1,-1,2,-1,0,-1,1,-2,1,0,1,0,-1,2,-1,0,1,1,-1,0,-2,-1,0,2,-1,1,2,0,-2,1,-1,-1,1,-1,2,0,0,-2,1,1,-1,0,1,-1,1,0,-1,1,0,-2,1,1,-1,2,0,-1,0]},
{"k":62,"v":[-1,-1,1,0,2,1,0,-2,1,-1,-2,0,2,-1,1,1,-1,1,-2,0,0,2,-1,-1,1,0,-1,1,-1,0,1,-1,0,2,-1,-1,1,-2,0,1,0,1,-1,1,-2,2,-1,0,-1,1,-1,0,1,-2,1,0,-2,1,0,-1,1,0,-1,1,0,-2,1,-1,2,0,0,-1,0,1,-1,1,-2,1,0,1,0,1,-1,1,0,-1,0,1,-1,0,-1,0,2,-1,1,0,-1,1,-1,2,-1,2,-1,0,-1,0,-2,1,1,-1,0,2,-1,0,1,1,1,-1,0,-2,1,-1,2,0,-1,0,1,0,-1,1,-1,1,-1,2,0,1,0,-1,2,-1,0,-1,2,-1,0,-1,1,0,-2,1,0]},
{"k":63,"v":[0,-1,1,-1,0,1,0,-1,1,0,1,0,-2,1,-1,0,1,-1,1,-2,1,-2,1,0,1,0,2,-1,-1,1,0,-2,1,0,-1,-1,-1,1,0,2,-1,1,-2,0,1,0,-1,0,1,-1,1,-1,1,-2,0,-1,0,1,-2,1,0,1,-2,1,0,1,-1,0,2,-1,-2,1,-1,2,0,-1,1,-1,2,0,0,-2,1,1,-1,0,1,-1,1,0,-1,1,0,-2,1,1,-1,2,0,-1,0,-1,1,-1,2,-2,1,0,1,-1,1,0,-1,2,-1,0,2,-1,0,1,-1,0,1,-1,0,2,-1,1,-2,0,0,1,0,-1,1,-1,2,-1,0,-1,1,-2,1,0,1,0,-1,2,-1,0,0]},
{"k":64,"v":[-1,0,1,-2,1,0,-2,1,0,-1,1,0,-1,1,0,-2,1,-1,2,0,0,-1,0,1,-1,1,-2,1,0,1,-1,2,-1,0,-1,0,1,-2,1,0,-1,-1,1,0,2,1,0,-2,1,-1,-2,0,2,-1,1,1,-1,1,-2,0,0,2,-1,-1,1,0,-1,1,-1,0,1,-1,0,2,-1,0,-1,1,-1,2,-1,2,-1,0,-1,0,-2,1,1,-1,0,2,-1,0,1,1,1,-1,0,-2,1,-1,2,0,-1,0,1,0,-1,1,-1,1,-1,2,0,1,0,-1,2,-1,0,-1,2,-1,0,-1,1,0,-2,1,2,-1,1,-2,0,2,0,-2,1,-1,-2,1,0,1,-1,1,-2,1,0,1,0]},
{"k":65,"v":[1,-2,1,0,1,0,2,-1,-1,1,0,-2,1,0,-1,-1,-1,1,0,2,-1,1,-2,0,1,0,-1,0,1,-1,1,-1,1,-2,0,-1,0,1,-2,1,0,1,-2,1,0,1,-1,0,2,-1,-2,1,-1,2,0,-2,0,2,-1,1,2,-1,0,-1,1,-1,2,-1,0,-1,0,-1,1,-1,0,2,-1,1,-2,0,0,1,0,-1,1,-1,2,-1,0,-1,1,-2,1,0,1,0,-1,2,-1,0,1,1,-1,0,-2,-1,0,2,-1,1,2,0,-2,1,-1,-1,1,-1,2,0,0,-2,1,1,-1,0,1,-1,1,0,-1,1,0,-2,1,1,-1,2,0,-1,0,-1,1,-1,2,-2,1,0,1,-1,0]},
{"k":66,"v":[-2,0,2,-1,1,1,-1,1,-2,0,0,2,-1,-1,1,0,-1,1,-1,0,1,-1,0,2,-1,-1,1,-2,0,1,0,1,-1,1,-2,2,-1,0,-1,1,-1,0,1,-2,1,0,-2,1,0,-1,1,0,-1,1,0,-2,1,-1,2,0,0,-1,0,1,-1,1,-2,1,0,1,-1,2,-1,0,-1,1,1,-1,0,-2,1,-1,2,0,-1,0,1,0,-1,1,-1,1,-1,2,0,1,0,-1,2,-1,0,-1,2,-1,0,-1,1,0,-2,1,2,-1,1,-2,0,2,0,-2,1,-1,-2,1,0,1,-1,1,-2,1,0,1,0,1,-1,1,0,-1,0,1,-1,0,-1,0,2,-1,1,0,-1,1,-1,2,0]},
{"k":67,"v":[-1,1,-2,0,1,0,-1,0,1,-1,1,-1,1,-2,0,-1,0,1,-2,1,0,1,-2,1,0,1,-1,0,2,-1,-2,1,-1,2,0,-2,0,2,-1,1,2,-1,0,-1,1,-1,2,-1,0,-1,0,-1,1,-1,0,1,0,-1,1,0,1,0,-2,1,-1,0,1,-1,1,-2,1,-2,1,0,1,0,-1,1,-1,2,-2,1,0,1,-1,1,0,-1,2,-1,0,2,-1,0,1,-1,0,1,-1,0,2,-1,1,-2,0,0,1,0,-1,1,-1,2,-1,0,-1,1,-2,1,0,1,0,-1,2,-1,0,1,1,-1,0,-2,-1,0,2,-1,1,2,0,-2,1,-1,-1,1,-1,2,0,0,-2,1,1,-1,0]},
{"k":68,"v":[1,0,-1,1,0,-2,1,-1,2,0,0,-1,0,1,-1,1,-2,1,0,1,-1,2,-1,0,-1,0,1,-2,1,0,-1,-1,1,0,2,1,0,-2,1,-1,-2,0,2,-1,1,1,-1,1,-2,0,0,2,-1,-1,1,0,-1,1,-1,0,1,-1,0,2,-1,-1,1,-2,0,1,0,1,-1,1,-2,2,-1,1,-2,0,2,0,-2,1,-1,-2,1,0,1,-1,1,-2,1,0,1,0,1,-1,1,0,-1,0,1,-1,0,-1,0,2,-1,1,0,-1,1,-1,2,-1,2,-1,0,-1,0,-2,1,1,-1,0,2,-1,0,1,1,1,-1,0,-2,1,-1,2,0,-1,0,1,0,-1,1,-1,1,-1,2,0,0]},
{"k":69,"v":[0,1,-2,1,0,1,-1,0,2,-1,-2,1,-1,2,0,-2,0,2,-1,1,2,-1,0,-1,1,-1,2,-1,0,-1,0,-1,1,-1,0,1,0,-1,1,0,1,0,-2,1,-1,0,1,-1,1,-2,1,-2,1,0,1,0,2,-1,-1,1,0,-2,1,0,-1,-1,-1,1,0,2,-1,1,-2,0,1,1,1,-1,0,-2,-1,0,2,-1,1,2,0,-2,1,-1,-1,1,-1,2,0,0,-2,1,1,-1,0,1,-1,1,0,-1,1,0,-2,1,1,-1,2,0,-1,0,-1,1,-1,2,-2,1,0,1,-1,1,0,-1,2,-1,0,2,-1,0,1,-1,0,1,-1,0,2,-1,1,-2,0,0,1,0,-1,1,0]},
{"k":70,"v":[0,2,-1,-1,1,0,-1,1,-1,0,1,-1,0,2,-1,-1,1,-2,0,1,0,1,-1,1,-2,2,-1,0,-1,1,-1,0,1,-2,1,0,-2,1,0,-1,1,0,-1,1,0,-2,1,-1,2,0,0,-1,0,1,-1,1,-2,1,0,1,-1,2,-1,0,-1,0,1,-2,1,0,-1,-1,1,0,2,0,1,-1,1,0,-1,0,1,-1,0,-1,0,2,-1,1,0,-1,1,-1,2,-1,2,-1,0,-1,0,-2,1,1,-1,0,2,-1,0,1,1,1,-1,0,-2,1,-1,2,0,-1,0,1,0,-1,1,-1,1,-1,2,0,1,0,-1,2,-1,0,-1,2,-1,0,-1,1,0,-2,1,2,-1,1,-2,0,0]},
{"k":71,"v":[2,-1,0,-1,1,-1,2,-1,0,-1,0,-1,1,-1,0,1,0,-1,1,0,1,0,-2,1,-1,0,1,-1,1,-2,1,-2,1,0,1,0,2,-1,-1,1,0,-2,1,0,-1,-1,-1,1,0,2,-1,1,-2,0,1,0,-1,0,1,-1,1,-1,1,-2,0,-1,0,1,-2,1,0,1,-2,1,0,1,0,-1,2,-1,0,2,-1,0,1,-1,0,1,-1,0,2,-1,1,-2,0,0,1,0,-1,1,-1,2,-1,0,-1,1,-2,1,0,1,0,-1,2,-1,0,1,1,-1,0,-2,-1,0,2,-1,1,2,0,-2,1,-1,-1,1,-1,2,0,0,-2,1,1,-1,0,1,-1,1,0,-1,1,0,-2,1,0]},
{"k":72,"v":[2,-1,1,-2,0,-1,0,1,-1,0,0,2,-1,0,1,1,0,-1,2,-1,-2,1,0,1,-1,0,-1,1,-1,2,1,-1,2,0,-1,-1,1,0,-2,1,0,1,-1,1,0,0,-2,1,1,-1,-1,1,-1,2,0,2,0,-2,1,-1,-1,0,2,-1,1,1,1,-1,0,-2,0,-1,2,-1,0,-1,2,-1,0,-1,0,-2,1,1,-1,0,2,-1,0,1,1,1,-1,0,-2,1,-1,2,0,-1,0,1,0,-1,1,-1,1,-1,2,0,1,0,-1,2,-1,0,-1,2,-1,0,-1,1,0,-2,1,2,-1,1,-2,0,2,0,-2,1,-1,-2,1,0,1,-1,1,-2,1,0,1,0,1,-1,1,0,0]},
{"k":73,"v":[-1,0,1,-1,0,0,1,-1,1,0,1,-2,1,0,1,-2,1,0,1,-1,2,0,-2,1,-1,2,-1,1,-2,0,-1,1,0,-2,1,0,-1,2,-1,0,1,0,-1,2,-1,-1,1,-1,2,0,0,1,0,-1,1,1,-1,2,0,-1,1,1,-1,0,-2,0,2,-1,0,1,0,-2,1,1,-1,2,0,-2,1,-1,-1,1,-1,2,0,0,-2,1,1,-1,0,1,-1,1,0,-1,1,0,-2,1,1,-1,2,0,-1,0,-1,1,-1,2,-2,1,0,1,-1,1,0,-1,2,-1,0,2,-1,0,1,-1,0,1,-1,0,2,-1,1,-2,0,0,1,0,-1,1,-1,2,-1,0,-1,1,-2,1,0,1,0]},
{"k":74,"v":[0,1,-1,1,0,0,-2,1,1,-1,-1,1,-1,2,0,2,0,-2,1,-1,-1,0,2,-1,1,1,1,-1,0,-2,0,-1,2,-1,0,1,-2,1,0,1,-1,2,-1,0,-1,0,1,0,-1,1,2,-1,1,-2,0,-1,0,1,-1,0,0,2,-1,0,1,1,0,-1,2,-1,-2,1,0,1,-1,1,-1,2,0,-1,0,1,0,-1,1,-1,1,-1,2,0,1,0,-1,2,-1,0,-1,2,-1,0,-1,1,0,-2,1,2,-1,1,-2,0,2,0,-2,1,-1,-2,1,0,1,-1,1,-2,1,0,1,0,1,-1,1,0,-1,0,1,-1,0,-1,0,2,-1,1,0,-1,1,-1,2,-1,2,-1,0,-1,0]},
{"k":75,"v":[0,-2,1,1,-1,-1,2,-1,0,-1,0,-1,1,-1,2,-1,0,2,-1,1,-1,0,1,-1,0,0,1,-1,1,0,1,-2,1,0,1,-2,1,0,1,-1,2,0,-2,1,-1,2,-1,1,-2,0,-1,1,0,-2,1,0,-1,2,-1,0,1,0,-1,2,-1,-1,1,-1,2,0,0,1,0,-1,1,-1,0,1,-1,0,2,-1,1,-2,0,0,1,0,-1,1,-1,2,-1,0,-1,1,-2,1,0,1,0,-1,2,-1,0,1,1,-1,0,-2,-1,0,2,-1,1,2,0,-2,1,-1,-1,1,-1,2,0,0,-2,1,1,-1,0,1,-1,1,0,-1,1,0,-2,1,1,-1,2,0,-1,0,-1,1,-1,2,0]},
{"k":76,"v":[-1,0,2,-1,1,1,1,-1,0,-2,0,-1,2,-1,0,1,-2,1,0,1,-1,2,-1,0,-1,0,1,0,-1,1,2,-1,1,-2,0,-1,0,1,-1,0,0,2,-1,0,1,1,0,-1,2,-1,-2,1,0,1,-1,0,-1,1,-1,2,1,-1,2,0,-1,-1,1,0,-2,1,0,1,-1,1,0,0,1,-1,0,4,-5,5,-3,2,-1,1,1,-1,0,-2,0,2,-1,0,1,0,-2,1,1,-1,-1,2,-1,0,-1,0,-1,1,-1,2,-1,0,2,-1,1,-1,0,1,-1,0,0,1,-1,1,0,1,-2,1,0,1,-2,1,0,1,-1,2,0,-2,1,-1,2,-1,1,-2,0,-1,1,0,-2,1,0]},
{"k":77,"v":[0,1,0,-1,1,1,-1,2,0,-1,1,1,-1,0,-2,0,2,-1,0,1,0,-2,1,1,-1,-1,2,-1,0,-1,0,-1,1,-1,2,-1,0,2,-1,1,-1,0,1,-1,0,0,1,-1,1,0,1,-2,1,0,1,-2,1,0,1,-1,2,0,-2,1,-1,2,-1,1,-2,0,-1,1,0,-2,1,0,-2,1,1,-1,0,1,-1,1,0,-1,1,0,-2,1,1,-1,2,0,-1,0,-1,1,-1,2,-2,1,0,1,-1,1,0,-1,2,-1,0,2,-1,0,1,-1,0,1,-1,0,2,-1,1,-2,0,0,1,0,-1,1,-1,2,-1,0,-1,1,-2,1,0,1,0,-1,2,-1,0,1,1,-1,0,-2,0]},
{"k":78,"v":[1,-1,2,0,-1,-1,1,0,-2,1,0,1,-1,1,0,0,-2,1,1,-1,-1,1,-1,2,0,2,0,-2,1,-1,-1,0,2,-1,1,1,1,-1,0,-2,0,-1,2,-1,0,1,-2,1,0,1,-1,2,-1,0,-1,0,1,0,-1,1,2,-1,1,-2,0,-1,0,1,-1,0,0,2,-1,0,1,-2,1,0,1,-1,1,-2,1,0,1,0,1,-1,1,0,-1,0,1,-1,0,-1,0,2,-1,1,0,-1,1,-1,2,-1,2,-1,0,-1,0,-2,1,1,-1,0,2,-1,0,1,1,1,-1,0,-2,1,-1,2,0,-1,0,1,0,-1,1,-1,1,-1,2,0,1,0,-1,2,-1,0,-1,2,-1,0,0]},
{"k":79,"v":[-1,1,0,-2,1,0,-1,2,-1,0,1,0,-1,2,-1,-1,1,-1,2,0,0,1,0,-1,1,1,-1,2,0,-1,1,1,-1,0,-2,0,2,-1,0,1,0,-2,1,1,-1,-1,2,-1,0,-1,0,-1,1,-1,2,-1,0,2,-1,1,-1,0,1,-1,0,0,1,-1,1,0,1,-2,1,0,1,0,1,0,-1,1,-1,2,-1,0,-1,1,-2,1,0,1,0,-1,2,-1,0,1,1,-1,0,-2,-1,0,2,-1,1,2,0,-2,1,-1,-1,1,-1,2,0,0,-2,1,1,-1,0,1,-1,1,0,-1,1,0,-2,1,1,-1,2,0,-1,0,-1,1,-1,2,-2,1,0,1,-1,1,0,-1,2,-1,0]},
{"k":80,"v":[0,-1,2,-1,0,1,-2,1,0,1,-1,2,-1,0,-1,0,1,0,-1,1,2,-1,1,-2,0,-1,0,1,-1,0,0,2,-1,0,1,1,0,-1,2,-1,-2,1,0,1,-1,0,-1,1,-1,2,1,-1,2,0,-1,-1,1,0,-2,1,0,1,-1,1,0,0,-2,1,1,-1,-1,1,-1,2,0,-1,0,2,-1,1,0,-1,1,-1,2,-1,2,-1,0,-1,0,-2,1,1,-1,0,2,-1,0,1,1,1,-1,0,-2,1,-1,2,0,-1,0,1,0,-1,1,-1,1,-1,2,0,1,0,-1,2,-1,0,-1,2,-1,0,-1,1,0,-2,1,2,-1,1,-2,0,2,0,-2,1,-1,-2,1,0,1,-1,0]},
{"k":81,"v":[1,-2,1,0,1,-2,1,0,1,-1,2,0,-2,1,-1,2,-1,1,-2,0,-1,1,0,-2,1,0,-1,2,-1,0,1,0,-1,2,-1,-1,1,-1,2,0,0,1,0,-1,1,1,-1,2,0,-1,1,1,-1,0,-2,0,2,-1,0,1,0,-2,1,1,-1,-1,2,-1,0,-1,0,-1,1,-1,2,-1,1,0,-2,1,1,-1,2,0,-1,0,-1,1,-1,2,-2,1,0,1,-1,1,0,-1,2,-1,0,2,-1,0,1,-1,0,1,-1,0,2,-1,1,-2,0,0,1,0,-1,1,-1,2,-1,0,-1,1,-2,1,0,1,0,-1,2,-1,0,1,1,-1,0,-2,-1,0,2,-1,1,2,0,-2,1,-1,0]},
{"k":82,"v":[-2,1,0,1,-1,0,-1,1,-1,2,1,-1,2,0,-1,-1,1,0,-2,1,0,1,-1,1,0,0,-2,1,1,-1,-1,1,-1,2,0,2,0,-2,1,-1,-1,0,2,-1,1,1,1,-1,0,-2,0,-1,2,-1,0,1,-2,1,0,1,-1,2,-1,0,-1,0,1,0,-1,1,2,-1,1,-2,0,0,2,-1,0,1,1,1,-1,0,-2,1,-1,2,0,-1,0,1,0,-1,1,-1,1,-1,2,0,1,0,-1,2,-1,0,-1,2,-1,0,-1,1,0,-2,1,2,-1,1,-2,0,2,0,-2,1,-1,-2,1,0,1,-1,1,-2,1,0,1,0,1,-1,1,0,-1,0,1,-1,0,-1,0,2,-1,1,0]},
{"k":83,"v":[0,-1,1,-1,2,-1,0,2,-1,1,-1,0,1,-1,0,0,1,-1,1,0,1,-2,1,0,1,-2,1,0,1,-1,2,0,-2,1,-1,2,-1,1,-2,0,-1,1,0,-2,1,0,-1,2,-1,0,1,0,-1,2,-1,-1,1,-1,2,0,0,1,0,-1,1,1,-1,2,0,-1,1,1,-1,0,-2,-1,1,-1,2,0,1,0,-1,2,-1,0,-1,2,-1,0,-1,1,0,-2,1,2,-1,1,-2,0,2,0,-2,1,-1,-2,1,0,1,-1,1,-2,1,0,1,0,1,-1,1,0,-1,0,1,-1,0,-1,0,2,-1,1,0,-1,1,-1,2,-1,2,-1,0,-1,0,-2,1,1,-1,0,2,-1,0,1,0]},
{"k":84,"v":[-1,0,2,-1,1,1,1,-1,0,-2,0,-1,2,-1,0,1,-2,1,0,1,-1,2,-1,0,-1,0,1,0,-1,1,2,-1,1,-2,0,-1,0,1,-1,0,0,2,-1,0,1,1,0,-1,2,-1,-2,1,0,1,-1,0,-1,1,-1,2,1,-1,2,0,-1,-1,1,0,-2,1,0,1,-1,1,0,0,-1,2,-1,0,-1,1,0,-2,1,2,-1,1,-2,0,2,0,-2,1,-1,-2,1,0,1,-1,1,-2,1,0,1,0,1,-1,1,0,-1,0,1,-1,0,-1,0,2,-1,1,0,-1,1,-1,2,-1,2,-1,0,-1,0,-2,1,1,-1,0,2,-1,0,1,1,1,-1,0,-2,1,-1,2,0,-1,0]},
{"k":85,"v":[1,1,-1,0,-2,0,2,-1,0,1,0,-2,1,1,-1,-1,2,-1,0,-1,0,-1,1,-1,2,-1,0,2,-1,1,-1,0,1,-1,0,0,1,-1,1,0,1,-2,1,0,1,-2,1,0,1,-1,2,0,-2,1,-1,2,-1,1,-2,0,-1,1,0,-2,1,0,-1,2,-1,0,1,0,-1,2,-1,-2,1,-1,2,0,0,-1,0,1,-1,1,-2,1,0,1,-1,2,-1,0,-1,0,1,-2,1,0,-1,-1,1,0,2,1,0,-2,1,-1,-2,0,2,-1,1,1,-1,1,-2,0,0,2,-1,-1,1,0,-1,1,-1,0,1,-1,0,2,-1,-1,1,-2,0,1,0,1,-1,1,-2,2,-1,0,-1,1,0]},
{"k":86,"v":[0,2,-1,0,1,1,0,-1,2,-1,-2,1,0,1,-1,0,-1,1,-1,2,1,-1,2,0,-1,-1,1,0,-2,1,0,1,-1,1,0,0,-2,1,1,-1,-1,1,-1,2,0,2,0,-2,1,-1,-1,0,2,-1,1,1,1,-1,0,-2,0,-1,2,-1,0,1,-2,1,0,1,-1,2,-1,0,-1,-1,-1,1,0,2,-1,1,-2,0,1,0,-1,0,1,-1,1,-1,1,-2,0,-1,0,1,-2,1,0,1,-2,1,0,1,-1,0,2,-1,-2,1,-1,2,0,-2,0,2,-1,1,2,-1,0,-1,1,-1,2,-1,0,-1,0,-1,1,-1,0,1,0,-1,1,0,1,0,-2,1,-1,0,1,-1,1,-2,0]},
{"k":87,"v":[1,0,-1,2,-1,-1,1,-1,2,0,0,1,0,-1,1,1,-1,2,0,-1,1,1,-1,0,-2,0,2,-1,0,1,0,-2,1,1,-1,-1,2,-1,0,-1,0,-1,1,-1,2,-1,0,2,-1,1,-1,0,1,-1,0,0,1,-1,1,0,1,-2,1,0,1,-2,1,0,1,-1,2,0,-2,1,-1,1,-2,1,0,1,-1,2,-1,0,-1,0,1,-2,1,0,-1,-1,1,0,2,1,0,-2,1,-1,-2,0,2,-1,1,1,-1,1,-2,0,0,2,-1,-1,1,0,-1,1,-1,0,1,-1,0,2,-1,-1,1,-2,0,1,0,1,-1,1,-2,2,-1,0,-1,1,-1,0,1,-2,1,0,-2,1,0,-1,0]},
{"k":88,"v":[-1,1,-1,2,0,2,0,-2,1,-1,-1,0,2,-1,1,1,1,-1,0,-2,0,-1,2,-1,0,1,-2,1,0,1,-1,2,-1,0,-1,0,1,0,-1,1,2,-1,1,-2,0,-1,0,1,-1,0,0,2,-1,0,1,1,0,-1,2,-1,-2,1,0,1,-1,0,-1,1,-1,2,1,-1,2,0,-1,0,1,-1,1,-2,1,-2,1,0,1,0,2,-1,-1,1,0,-2,1,0,-1,-1,-1,1,0,2,-1,1,-2,0,1,0,-1,0,1,-1,1,-1,1,-2,0,-1,0,1,-2,1,0,1,-2,1,0,1,-1,0,2,-1,-2,1,-1,2,0,-2,0,2,-1,1,2,-1,0,-1,1,-1,2,-1,0,-1,0]},
{"k":89,"v":[2,0,-2,1,-1,2,-1,1,-2,0,-1,1,0,-2,1,0,-1,2,-1,0,1,0,-1,2,-1,-1,1,-1,2,0,0,1,0,-1,1,1,-1,2,0,-1,1,1,-1,0,-2,0,2,-1,0,1,0,-2,1,1,-1,-1,2,-1,0,-1,0,-1,1,-1,2,-1,0,2,-1,1,-1,0,1,-1,0,-2,0,2,-1,1,2,-1,0,-1,1,-1,2,-1,0,-1,0,-1,1,-1,0,1,0,-1,1,0,1,0,-2,1,-1,0,1,-1,1,-2,1,-2,1,0,1,0,2,-1,-1,1,0,-2,1,0,-1,-1,-1,1,0,2,-1,1,-2,0,1,0,-1,0,1,-1,1,-1,1,-2,0,-1,0,1,-2,1,0]},
{"k":90,"v":[1,-2,1,0,1,-1,2,-1,0,-1,0,1,0,-1,1,2,-1,1,-2,0,-1,0,1,-1,0,0,2,-1,0,1,1,0,-1,2,-1,-2,1,0,1,-1,0,-1,1,-1,2,1,-1,2,0,-1,-1,1,0,-2,1,0,1,-1,1,0,0,-2,1,1,-1,-1,1,-1,2,0,2,0,-2,1,-1,-1,1,-2,0,1,0,1,-1,1,-2,2,-1,0,-1,1,-1,0,1,-2,1,0,-2,1,0,-1,1,0,-1,1,0,-2,1,-1,2,0,0,-1,0,1,-1,1,-2,1,0,1,-1,2,-1,0,-1,0,1,-2,1,0,-1,-1,1,0,2,1,0,-2,1,-1,-2,0,2,-1,1,1,-1,1,-2,0,0]},
{"k":91,"v":[-1,2,-1,0,-1,0,-1,1,-1,2,-1,0,2,-1,1,-1,0,1,-1,0,0,1,-1,1,0,1,-2,1,0,1,-2,1,0,1,-1,2,0,-2,1,-1,2,-1,1,-2,0,-1,1,0,-2,1,0,-1,2,-1,0,1,0,-1,2,-1,-1,1,-1,2,0,0,1,0,-1,1,1,-1,2,0,-1,1,0,-1,1,0,1,0,-2,1,-1,0,1,-1,1,-2,1,-2,1,0,1,0,2,-1,-1,1,0,-2,1,0,-1,-1,-1,1,0,2,-1,1,-2,0,1,0,-1,0,1,-1,1,-1,1,-2,0,-1,0,1,-2,1,0,1,-2,1,0,1,-1,0,2,-1,-2,1,-1,2,0,-2,0,2,-1,1,0]},
{"k":92,"v":[0,-1,1,-1,2,1,-1,2,0,-1,-1,1,0,-2,1,0,1,-1,1,0,0,-2,1,1,-1,-1,1,-1,2,0,2,0,-2,1,-1,-1,0,2,-1,1,1,1,-1,0,-2,0,-1,2,-1,0,1,-2,1,0,1,-1,2,-1,0,-1,0,1,0,-1,1,2,-1,1,-2,0,-1,0,1,-1,0,0,1,-2,1,0,-1,-1,1,0,2,1,0,-2,1,-1,-2,0,2,-1,1,1,-1,1,-2,0,0,2,-1,-1,1,0,-1,1,-1,0,1,-1,0,2,-1,-1,1,-2,0,1,0,1,-1,1,-2,2,-1,0,-1,1,-1,0,1,-2,1,0,-2,1,0,-1,1,0,-1,1,0,-2,1,-1,2,0,0]},
{"k":93,"v":[1,-1,2,0,-1,1,1,-1,0,-2,0,2,-1,0,1,0,-2,1,1,-1,-1,2,-1,0,-1,0,-1,1,-1,2,-1,0,2,-1,1,-1,0,1,-1,0,0,1,-1,1,0,1,-2,1,0,1,-2,1,0,1,-1,2,0,-2,1,-1,2,-1,1,-2,0,-1,1,0,-2,1,0,-1,2,-1,0,0,2,-1,-1,1,0,-2,1,0,-1,-1,-1,1,0,2,-1,1,-2,0,1,0,-1,0,1,-1,1,-1,1,-2,0,-1,0,1,-2,1,0,1,-2,1,0,1,-1,0,2,-1,-2,1,-1,2,0,-2,0,2,-1,1,2,-1,0,-1,1,-1,2,-1,0,-1,0,-1,1,-1,0,1,0,-1,1,0,0]},
{"k":94,"v":[1,1,-1,0,-2,0,-1,2,-1,0,1,-2,1,0,1,-1,2,-1,0,-1,0,1,0,-1,1,2,-1,1,-2,0,-1,0,1,-1,0,0,2,-1,0,1,1,0,-1,2,-1,-2,1,0,1,-1,0,-1,1,-1,2,1,-1,2,0,-1,-1,1,0,-2,1,0,1,-1,1,0,0,-2,1,1,-1,2,-1,0,-1,1,-1,0,1,-2,1,0,-2,1,0,-1,1,0,-1,1,0,-2,1,-1,2,0,0,-1,0,1,-1,1,-2,1,0,1,-1,2,-1,0,-1,0,1,-2,1,0,-1,-1,1,0,2,1,0,-2,1,-1,-2,0,2,-1,1,1,-1,1,-2,0,0,2,-1,-1,1,0,-1,1,-1,0,0]},
{"k":95,"v":[0,-1,2,-1,0,1,0,-1,2,-1,-1,1,-1,2,0,0,1,0,-1,1,1,-1,2,0,-1,1,1,-1,0,-2,0,2,-1,0,1,0,-2,1,1,-1,-1,2,-1,0,-1,0,-1,1,-1,2,-1,0,2,-1,1,-1,0,1,-1,0,0,1,-1,1,0,1,-2,1,0,1,-2,1,0,1,-1,0,-1,0,1,-1,1,-1,1,-2,0,-1,0,1,-2,1,0,1,-2,1,0,1,-1,0,2,-1,-2,1,-1,2,0,-2,0,2,-1,1,2,-1,0,-1,1,-1,2,-1,0,-1,0,-1,1,-1,0,1,0,-1,1,0,1,0,-2,1,-1,0,1,-1,1,-2,1,-2,1,0,1,0,2,-1,-1,1,0]}
],
"active":[
{"k":36,"v":[0,1,0,-1,1,0,-1,0,1,-1,-2,-4,-7,-6,-3,1,5,10,13,14,12,6,-2,-9,-13,-14,-14,-12,-6,2,10,16,18,15,7,-4,-13,-17,-15,-6,6,15,18,13,3,-9,-17,-19,-14,-4,7,14,15,9,-2,-10,-12,-7,2,9,11,7,-1,-5,-4,1,6,8,6,1,-3,-6,-7,-3,2,5,3,-1,-4,-5,-3,0,2,3,2,0,-2,-3,-2,0,2,4,3,1,-1,-3,-4,-2,1,3,4,5,3,0,-3,-4,-2,1,3,4,2,-1,-3,-5,-3,0,3,5,6,3,-1,-5,-8,-6,0,6,8,5,-2,-7,-8,-2,5,8,6,-1,-7,-8,-4,3,7,4,-4,-8,-6,1,7,8,2,-6,-9,-5,2,7,8,4,-3,-8,-7,-2,5,9,6,-2,-8,-8,-3,5,8,6,-1,-7,-9,-5,2,7,8,3,-4,-8,-7,0,7,8,4,-3,-8,-7,-1,6,9,6,-1,-7,-9,-5,2,8,7,0,-7,-8,-3,4,8,6,-1,-7,-8,-3,4,8,7,1,-6,-8,-5,2,8,8,2,-6,-9,-6,1,7,8,2,-5,-9,-7,0,6,9,5,-2,-8,-8,-2,5,8,6,-1,-7,-8,-3,4,8,7,1,-6,-9,-6,1,7,8,3,-5,-8,-6,1,7,8,3,-5,-8,-7,-1,6,9,5,-3,-8,-8,-2,6,8,6,-1,-7,-8,-3,4,8,7,1,-6,-9,-6,1,7,8,4,-4,-8,-7,0,6,8,5,-2]},
{"k":37,"v":[4,8,3,-4,-7,-3,4,8,6,-1,-6,-7,-1,6,9,4,-3,-7,-5,2,7,3,-2,-4,-1,3,7,5,-2,-7,-6,1,6,7,2,-5,-8,-4,3,7,6,-1,-6,-7,-2,5,7,4,-3,-7,-5,2,6,6,0,-6,-6,-1,5,7,3,-4,-7,-4,3,6,5,-2,-6,-6,0,5,6,1,-5,-6,-2,4,6,3,-3,-4,-2,1,3,2,-1,-3,-2,1,2,3,0,-2,-3,-1,2,3,1,-2,-3,-1,1,3,2,-1,-2,-3,0,2,3,1,-2,-3,-1,2,4,2,-1,-3,-2,1,5,6,2,-3,-5,-4,1,5,5,0,-4,-5,-2,3,6,4,-2,-5,-4,1,5,5,1,-4,-6,-3,3,5,4,-1,-5,-5,0,4,6,3,-3,-5,-3,2,5,5,0,-4,-5,-1,4,6,2,-3,-6,-4,2,5,5,1,-4,-5,-1,4,5,2,-3,-5,-3,2,5,4,-1,-5,-4,1,5,5,0,-4,-5,-1,4,6,3,-3,-5,-4,1,5,6,1,-4,-5,-1,4,5,2,-3,-6,-3,2,5,5,0,-4,-5,-1,4,6,3,-3,-5,-3,2,5,4,-1,-5,-4,1,5,5,0,-4,-5,-1,3,5,3,-2,-5,-3,1,4,4,0,-3,-4,-1,2,3,1,0,-1,1,0,-1,1,2,0,-1,0,1,-1,0,1,0,-2,0,1,0,-1,1,0,-1,1,0,0,-1,1,0,-1,0,1,-1,0,1,0,-1,0,1,0]},
{"k":38,"v":[1,2,0,-2,-3,-1,2,3,1,-2,-3,0,2,3,1,-1,-3,-2,1,2,1,-2,-4,-2,2,4,3,-1,-4,-3,1,4,4,0,-3,-4,-1,3,4,1,-3,-5,-3,2,5,4,-1,-5,-4,1,5,5,0,-4,-5,-1,4,5,2,-3,-5,-2,3,7,5,-1,-6,-7,-2,4,7,5,-2,-7,-6,0,6,7,3,-4,-7,-5,1,7,9,5,-3,-8,-9,-4,3,8,9,4,-4,-9,-8,-2,5,9,7,1,-6,-9,-7,0,6,9,6,-2,-8,-9,-4,3,8,9,5,-3,-8,-8,-3,4,7,6,0,-6,-7,-3,3,7,6,-1,-6,-7,-2,4,7,5,-2,-6,-6,-1,4,5,2,-3,-4,-2,2,4,3,-1,-4,-4,0,3,4,2,-2,-4,-3,1,3,3,0,-3,-3,0,3,3,-1,-3,-2,1,3,2,-1,-3,-1,2,3,1,-2,-2,0,2,2,0,-2,-2,1,2,1,-1,-2,0,2,1,-1,-2,0,2,1,-1,-2,-1,1,2,0,-1,-1,0,1,-1,1,0,-2,0,1,2,0,-1,-2,0,1,1,-1,0,2,0,-1,-1,1,0,-2,1,0,1,-1,0,1,2,0,-1,-1,1,0,-2,0,1,2,0,-1,1,0,-1,2,1,-1,-2,0,1,0,-1,1,2,0,-1,-1,0,1,-1,0,2,1,-1,0,-2,1,0,1,0,-1,1,-1,0,2,0,-1,1,0,-2,0,1,1,-1,0,1,-1,0,1]}
],
"dc":[{"k":0}]
},
"layer":[
{"data":{"name":"quiet"},
 "transform":[{"flatten":["v"]},{"window":[{"op":"row_number","as":"i"}],"groupby":["k"]}],
 "mark":{"type":"line","strokeWidth":1,"clip":true},
 "encoding":{
  "x":{"field":"i","type":"quantitative","scale":{"domain":[1,151],"nice":false,"zero":false},
   "axis":{"orient":"bottom","values":[1,2.6667,4.3333,6,7.6667,9.3333,11,12.6667,14.3333,16,17.6667,19.3333,21,22.6667,24.3333,26,27.6667,29.3333,31,32.6667,34.3333,36,37.6667,39.3333,41,42.6667,44.3333,46,47.6667,49.3333,51,52.6667,54.3333,56,57.6667,59.3333,61,62.6667,64.3333,66,67.6667,69.3333,71,72.6667,74.3333,76,77.6667,79.3333,81,82.6667,84.3333,86,87.6667,89.3333,91,92.6667,94.3333,96,97.6667,99.3333,101,102.6667,104.3333,106,107.6667,109.3333,111,112.6667,114.3333,116,117.6667,119.3333,121,122.6667,124.3333,126,127.6667,129.3333,131,132.6667,134.3333,136,137.6667,139.3333,141,142.6667,144.3333,146,147.6667,149.3333,151],
    "labelExpr":"(datum.value - 1) % 10 == 0 ? format((datum.value - 1) / 10, '02d') : ''",
    "labelFont":"DejaVu Sans Mono","labelFontWeight":"bold","labelFontSize":12,"labelColor":"black","labelPadding":5,"labelOverlap":false,"labelFlush":false,"labelBound":false,
    "ticks":true,"tickSize":6,"tickColor":"black","tickWidth":1,"domain":true,"domainColor":"black","domainWidth":1.5,"grid":false,
    "title":"TIME (MINUTES)","titleFont":"DejaVu Sans Mono","titleFontWeight":"bold","titleFontSize":12,"titleColor":"black","titleX":372,"titleY":33,"titleAlign":"center","titleBaseline":"alphabetic"}},
  "y":{"field":"k","type":"ordinal","scale":{"type":"band","paddingInner":0,"paddingOuter":0},
   "axis":{"orient":"left","labelExpr":"datum.value == 0 ? 'MDT' : (datum.value % 4 == 0 ? format((18 + datum.value / 4) % 24, '02d') + ':00' : '')",
    "labelFont":"DejaVu Sans Mono","labelFontWeight":"bold","labelFontSize":12,"labelColor":"black","labelPadding":2,"labelOffset":1.5,"labelOverlap":false,"labelBound":false,"ticks":false,"tickSize":0,"domain":false,"grid":false,"title":null}},
  "yOffset":{"field":"v","type":"quantitative","scale":{"domain":[-6.75,6.75],"reverse":true}},
  "color":{"field":"k","type":"nominal","scale":{"range":["#000000","#ff0000","#0000ff","#006400"]},"legend":null},
  "order":{"field":"i","type":"quantitative"}
 }},
{"data":{"name":"active"},
 "transform":[{"flatten":["v"]},{"window":[{"op":"row_number","as":"i"}],"groupby":["k"]}],
 "mark":{"type":"line","strokeWidth":1,"clip":true},
 "encoding":{
  "x":{"field":"i","type":"quantitative","scale":{"domain":[1,301],"nice":false,"zero":false},
   "axis":{"orient":"top","values":[1,21,41,61,81,101,121,141,161,181,201,221,241,261,281,301],"labels":false,"ticks":false,"domain":true,"domainColor":"black","domainWidth":2,"grid":true,"gridColor":"#808080","gridOpacity":1,"gridWidth":1,
    "title":"Traces clipped at plus/minus 20 vertical divisions","titleFont":"DejaVu Sans Mono","titleFontWeight":"normal","titleFontSize":8.3,"titleColor":"black","titleX":432,"titleY":1329,"titleAlign":"left","titleBaseline":"alphabetic"}},
  "y":{"field":"k","type":"ordinal","scale":{"type":"band","paddingInner":0,"paddingOuter":0},
   "axis":{"orient":"right","labelExpr":"datum.value == 0 ? 'UTC' : (datum.value % 4 == 0 ? format((datum.value / 4) % 24, '02d') + ':15' : '')",
    "labelFont":"DejaVu Sans Mono","labelFontWeight":"bold","labelFontSize":12,"labelColor":"black","labelPadding":4,"labelOffset":1.5,"labelAlign":"left","labelOverlap":false,"labelBound":false,"ticks":false,"tickSize":0,"domain":false,"grid":false,"title":null}},
  "yOffset":{"field":"v","type":"quantitative","scale":{"domain":[-6.75,6.75],"reverse":true}},
  "color":{"field":"k","type":"nominal","scale":{"range":["#000000","#ff0000","#0000ff","#006400"]},"legend":null},
  "order":{"field":"i","type":"quantitative"}
 }},
{"data":{"name":"dc"},
 "mark":{"type":"point","opacity":0},
 "encoding":{
  "x":{"datum":1,"type":"quantitative","axis":{"orient":"bottom","labels":false,"ticks":false,"domain":false,"grid":false,
    "title":"Each Vertical Division = \u00a0100.00 microvolts","titleFont":"DejaVu Sans Mono","titleFontWeight":"normal","titleFontSize":8.3,"titleColor":"black","titleX":-30,"titleY":33,"titleAlign":"left","titleBaseline":"alphabetic"}},
  "y":{"field":"k","type":"ordinal","scale":{"type":"band","paddingInner":0,"paddingOuter":0},
   "axis":{"orient":"right","labelExpr":"[432,407,414,417,408,404,403,396,394,402,379,389,391,389,383,391,381,384,382,379,363,362,363,362,396,391,389,391,397,397,397,394,399,397,402,403,324,375,385,403,414,405,391,410,409,403,403,394,386,385,388,375,384,376,366,362,371,360,364,364,373,349,357,359,345,355,354,356,353,354,351,362,365,363,368,383,375,383,387,383,397,402,400,412,415,419,412,424,414,424,422,419,428,425,420,420][datum.value]",
    "labelFont":"DejaVu Sans Mono","labelFontSize":7,"labelColor":"black","labelPadding":76,"labelOffset":1,"labelAlign":"right","labelOverlap":false,"labelBound":false,"ticks":false,"tickSize":0,"domain":false,"grid":false,
    "title":"DC","titleFont":"DejaVu Sans Mono","titleFontSize":7,"titleFontWeight":"normal","titleColor":"black","titleAngle":0,"titleX":56,"titleY":6,"titleAlign":"left","titleBaseline":"alphabetic"}}
 }}
],
"resolve":{"scale":{"x":"independent"},"axis":{"x":"independent","y":"independent"}}
}
